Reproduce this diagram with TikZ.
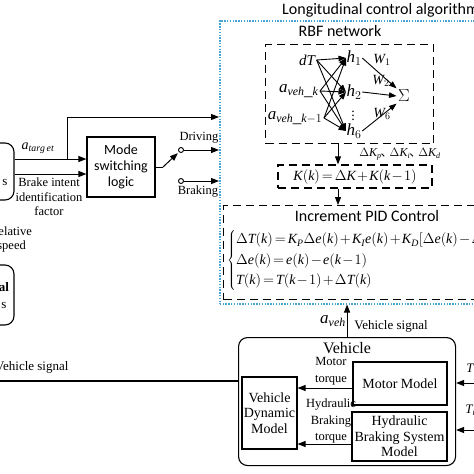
\documentclass[tikz,border=0pt]{standalone}
\usepackage{fontspec}
\setmainfont{Liberation Serif}
\setsansfont{Carlito}
\newfontfamily\cjk{Noto Sans CJK SC}
\DeclareSymbolFont{letters}{TU}{\rmdefault}{m}{it}
\thickmuskip=2.5mu plus 1mu
\medmuskip=1.5mu plus 1mu
\usetikzlibrary{arrows.meta,calc}
\definecolor{dotblue}{RGB}{70,165,210}
\begin{document}
\begin{tikzpicture}[x=1pt,y=-1pt,
  box/.style={draw,line width=1.1pt,inner sep=0pt,align=center,font=\fontsize{14}{15.5}\selectfont},
  rbox/.style={box,rounded corners=9pt},
  dbox/.style={draw,line width=1.3pt,dash pattern=on 8pt off 5pt,inner sep=0pt},
  bbox/.style={draw=dotblue,line width=1.5pt,dash pattern=on 1.4pt off 1.4pt,inner sep=0pt},
  arr/.style={line width=1pt,-{Triangle[length=8pt,width=6pt]}},
  sarr/.style={line width=0.9pt,-{Triangle[length=7.5pt,width=5.5pt]}},
  lbl/.style={inner sep=0pt,align=center,font=\fontsize{12.5}{14.5}\selectfont},
  sans/.style={inner sep=0pt,font=\sffamily\fontsize{16}{18}\selectfont},
  eq/.style={inner sep=1.5pt,font=\fontsize{14}{16}\selectfont}
]
\useasboundingbox (0,0) rectangle (474,474);
\clip (0,0) rectangle (474,474);

% main blue frame
\node[bbox,minimum width=280pt,minimum height=283pt,anchor=north west] (lca) at (219,20) {};
\node[sans,anchor=west] (lcat) at (282,10) {Longitudinal control algorithm};

% left boxes
\node[rbox,minimum width=80pt,minimum height=57pt] (src) at (-26,171.5) {};
\node[lbl,font=\fontsize{13}{15}\selectfont] (srct) at (5,182) {s};
\node[rbox,minimum width=80pt,minimum height=60pt] (ctl) at (-26,295) {};
\node[lbl,font=\bfseries\fontsize{13}{15}\selectfont] (ctlt1) at (4,287) {al};
\node[lbl,font=\fontsize{13}{15}\selectfont] (ctlt2) at (4,305) {s};
\node[lbl,anchor=east] (rel1) at (32,231) {Relative};
\node[lbl,anchor=east] (rel2) at (26,246) {speed};

% mode switching
\node[box,minimum width=68pt,minimum height=60pt,font=\sffamily\fontsize{14}{16}\selectfont] (mode) at (121,167) {Mode\\switching\\logic};
\draw[arr] (src.east |- 0,159) -- (mode.west |- 0,159);
\draw[arr] (src.east |- 0,174) -- (mode.west |- 0,174);
\coordinate (br1) at (67,159);
\draw[arr] (br1) -- (67,117) -- (lca.west |- 0,117);
\node[lbl,font=\fontsize{14}{16}\selectfont] (atl) at (38,148) {$a_{targ\,et}$};
\node[lbl] (bil) at (49,197) {Brake intent\\identification\\factor};

% switch
\coordinate (sw) at (163,167);
\node[draw,circle,minimum size=5pt,inner sep=0pt,line width=0.9pt] (dr) at (181,150) {};
\node[draw,circle,minimum size=5pt,inner sep=0pt,line width=0.9pt] (bk) at (181,181) {};
\draw[line width=1pt] (mode.east) -- (sw);
\draw[arr,shorten >=1.5pt] (sw) -- (dr.south west);
\draw[arr] (dr.east) -- (dr -| lca.west);
\draw[arr] (bk.east) -- (bk -| lca.west);
\node[lbl] (drl) at (199,138) {Driving};
\node[lbl] (bkl) at (198,192) {Braking};

% RBF network
\node[sans] (rbft) at (340,31) {RBF network};
\node[dbox,anchor=north west,minimum width=168pt,minimum height=99pt] (rbf) at (265,44) {};
\node[eq,font=\fontsize{15}{17}\selectfont] (x1) at (307,60) {$dT$};
\node[eq,anchor=east,font=\fontsize{17}{19}\selectfont] (x2) at (320,91) {$a_{veh\_k}$};
\node[eq,anchor=east,font=\fontsize{17}{19}\selectfont] (x3) at (324,118) {$a_{veh\_k-1}$};
\node[eq,anchor=west,inner sep=0.5pt,font=\fontsize{17}{19}\selectfont] (h1) at (346,58) {$h_1$};
\node[eq,anchor=west,inner sep=0.5pt,font=\fontsize{17}{19}\selectfont] (h2) at (346,92) {$h_2$};
\node[eq,anchor=west,inner sep=0.5pt,font=\fontsize{17}{19}\selectfont] (h6) at (346,131) {$h_6$};
\foreach \s in {x1,x2,x3}
  \foreach \t in {h1,h2,h6}
    \draw[sarr] (\s.east) -- (\t.west);
\node[eq,font=\fontsize{18}{20}\selectfont] (sig) at (404,96) {$\Sigma$};
\draw[sarr] (h1.east) -- (sig.north west);
\draw[sarr] (h2.east) -- (sig.west);
\draw[sarr] (h6.east) -- (sig.south west);
\node[eq] (w1) at (382,60) {$W_1$};
\node[eq] (w2) at (381,81) {$W_2$};
\node[eq] (w6) at (382,114) {$W_6$};
\node[eq,inner sep=0pt] (vd) at (353,113) {$\vdots$};
\node[lbl,font=\fontsize{12}{14}\selectfont] (dk) at (400,154) {$\Delta K_p${\cjk\kern-1pt 、\kern-3pt}$\Delta K_i${\cjk\kern-1pt 、\kern-3pt}$\Delta K_d$};

% K update
\node[dbox,minimum width=154pt,minimum height=23pt,font=\fontsize{14}{16}\selectfont] (kb) at (355,176.5) {$K(k)=\Delta K+K(k-1)$};
\coordinate (ax) at (338,0);
\draw[arr] (ax |- rbf.south) -- (ax |- kb.north);

% PID
\node[dbox,anchor=north west,minimum width=280pt,minimum height=94pt] (pid) at (223,205) {};
\draw[arr] (ax |- kb.south) -- (ax |- pid.north);
\node[sans] (pidt) at (367,216) {Increment PID Control};
\node[eq,anchor=west,inner sep=0pt,font=\fontsize{14}{16.7}\selectfont] (pide) at (227,260)
 {\renewcommand{\arraystretch}{1.2}$\left\{\begin{array}{@{}l@{}}
 \Delta T(k)=K_P\Delta e(k)+K_I e(k)+K_D\big[\Delta e(k)-\Delta e(k-1)\big]\\
 \Delta e(k)=e(k)-e(k-1)\\
 T(k)=T(k-1)+\Delta T(k)
 \end{array}\right.$};

% Vehicle
\node[rbox,anchor=north west,minimum width=217pt,minimum height=128pt] (veh) at (238,337) {};
\node[lbl,font=\fontsize{16}{18}\selectfont] (veht) at (347,348) {Vehicle};
\node[box,minimum width=55pt,minimum height=72pt] (vdm) at (269.5,413) {Vehicle\\Dynamic\\Model};
\node[box,minimum width=94pt,minimum height=43pt] (mot) at (400,383.5) {Motor Model};
\node[box,minimum width=95pt,minimum height=49pt] (hyd) at (399.5,436.5) {Hydraulic\\Braking System\\Model};
\draw[arr] (mot.west |- 0,388) -- (vdm.east |- 0,388);
\draw[arr] (hyd.west |- 0,444) -- (vdm.east |- 0,444);
\node[lbl,font=\fontsize{12.5}{16.5}\selectfont] (mtl) at (331,371) {Motor\\torque};
\node[lbl,font=\fontsize{12.5}{16.5}\selectfont] (htl) at (331,421) {Hydraulic\\Braking\\torque};
\coordinate (tin1) at (490,383);
\coordinate (tin2) at (490,430);
\draw[arr] (tin1) -- (veh.east |- tin1);
\draw[arr] (tin2) -- (veh.east |- tin2);
\node[lbl,font=\fontsize{13}{15}\selectfont] (t1l) at (470,368) {$T$};
\node[lbl,font=\fontsize{13}{15}\selectfont] (t2l) at (471,410) {$T_r$};
\draw[arr] (veh.north) -- (veh.north |- lca.south);
\node[lbl,font=\fontsize{17}{19}\selectfont] (avl) at (333,321) {$a_{veh}$};
\node[lbl,font=\fontsize{13}{15}\selectfont] (vsl) at (391,326) {Vehicle signal};
\coordinate (vout) at (-5,381);
\draw[line width=1.1pt] (veh.west |- vout) -- (vout);
\node[lbl,anchor=west,font=\fontsize{13}{15}\selectfont] (vsl2) at (-5,367) {Vehicle signal};
\end{tikzpicture}
\end{document}
